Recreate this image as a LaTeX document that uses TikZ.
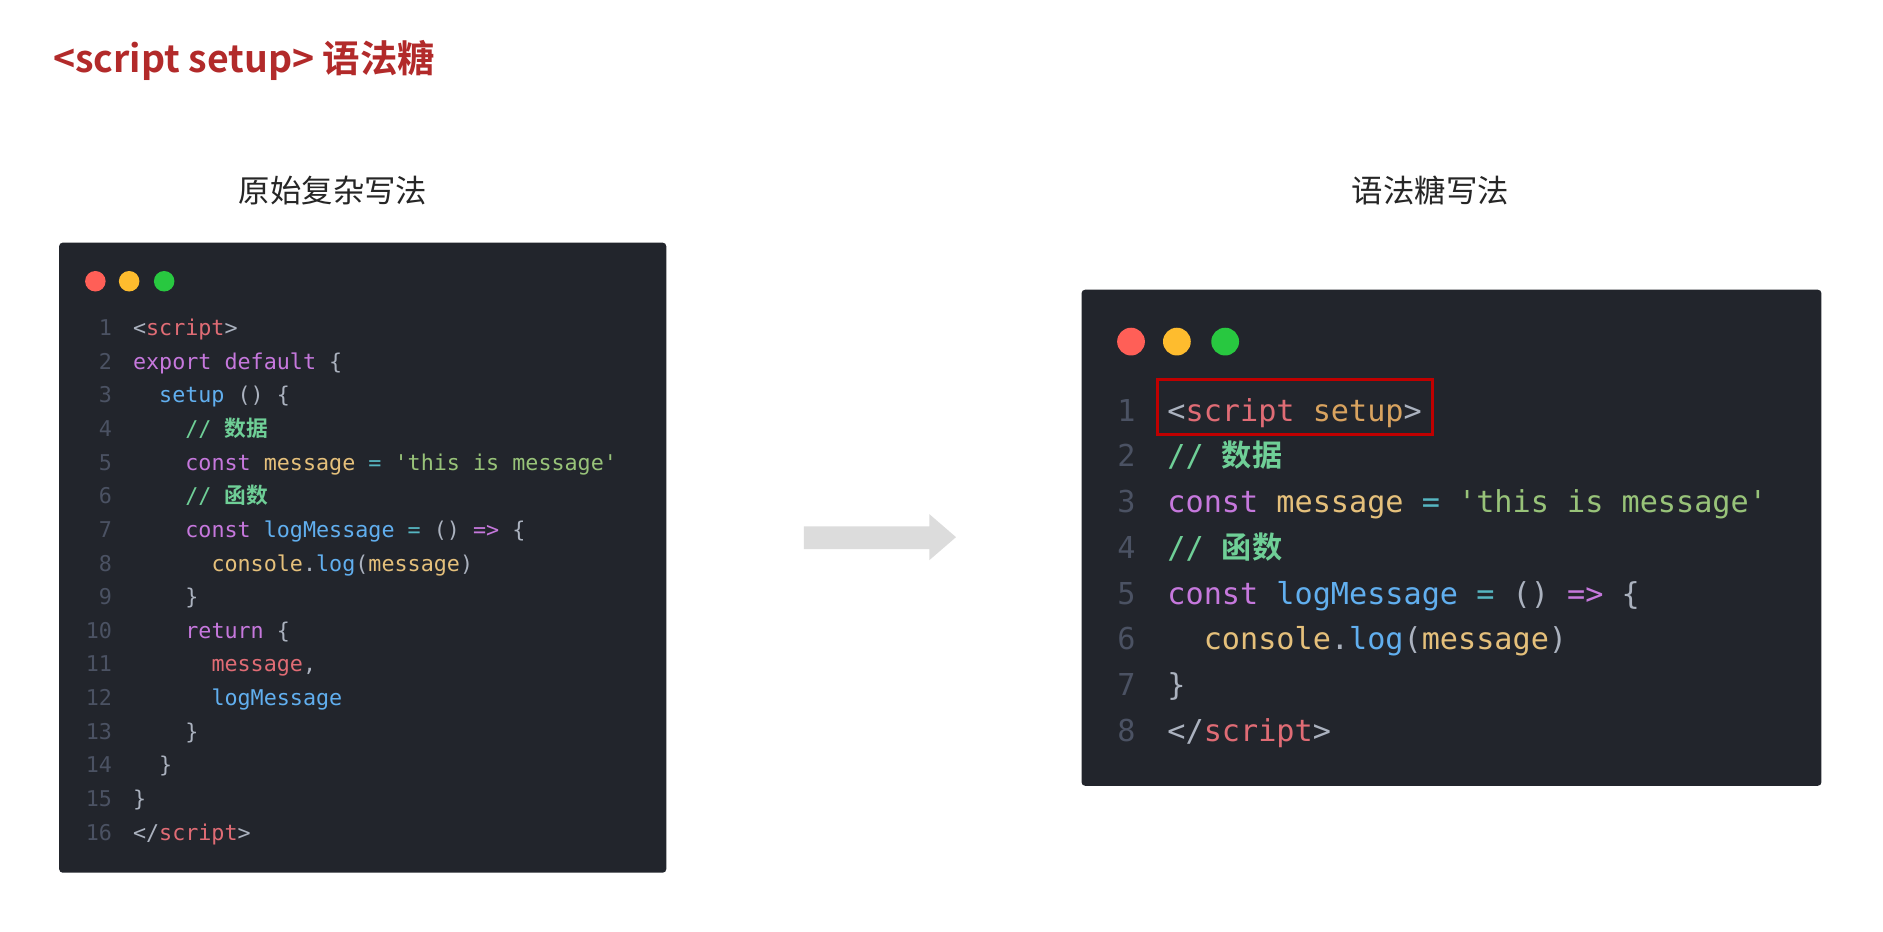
\documentclass[tikz,border=0pt]{standalone}
\usepackage{fontspec}
\setmainfont{Noto Sans CJK SC}
\newfontfamily\cjk{Noto Sans CJK SC}
\newfontfamily\cjkb{Noto Sans CJK SC Bold}
\setmonofont{DejaVu Sans Mono}
\definecolor{titlered}{HTML}{B22A2A}
\definecolor{panel}{HTML}{22252C}
\definecolor{cR}{HTML}{E06C75}
\definecolor{cP}{HTML}{C678DD}
\definecolor{cB}{HTML}{61AFEF}
\definecolor{cY}{HTML}{E5C07B}
\definecolor{cG}{HTML}{98C379}
\definecolor{cC}{HTML}{56B6C2}
\definecolor{cM}{HTML}{6FCF97}
\definecolor{cW}{HTML}{ABB2BF}
\definecolor{cO}{HTML}{D9A35F}
\definecolor{cN}{HTML}{4B5263}
\definecolor{dR}{HTML}{FF5F57}
\definecolor{dY}{HTML}{FEBC2E}
\definecolor{dG}{HTML}{28C840}
\definecolor{arrowgray}{HTML}{DCDCDC}
\definecolor{boxred}{HTML}{C00000}
\newcommand{\cw}[2]{\textcolor{#1}{#2}}
\newcommand{\cmt}[1]{\textcolor{cM}{//~{\cjkb #1}}}
\tikzset{
  codeS/.style={anchor=base west,inner sep=0pt,font=\ttfamily\fontsize{18}{18}\selectfont,text=cW},
  numS/.style={anchor=base east,inner sep=0pt,font=\ttfamily\fontsize{18}{18}\selectfont,text=cN},
  codeL/.style={anchor=base west,inner sep=0pt,font=\ttfamily\fontsize{25}{25}\selectfont,text=cW},
  numL/.style={anchor=base east,inner sep=0pt,font=\ttfamily\fontsize{25}{25}\selectfont,text=cN},
  panelbox/.style={fill=panel,rounded corners=3pt},
  sub/.style={anchor=base,inner sep=0pt,font=\cjk\fontsize{26}{26}\selectfont,text=black!85}
}
\begin{document}
\begin{tikzpicture}[x=1pt,y=-1pt]
\useasboundingbox (0,0) rectangle (1560,772);
\fill[white] (0,0) rectangle (1560,772);
\node[anchor=base west,inner sep=0pt,text=titlered,font=\cjkb\fontsize{31}{31}\selectfont] (title) at (44,60) {<script setup> 语法糖};
\node[sub] (sub1) at (276,168) {原始复杂写法};
\node[sub] (sub2) at (1185,168) {语法糖写法};
% left panel
\fill[panelbox] (49,201) rectangle (552,723);
\fill[dR] (79,233) circle (8.5);
\fill[dY] (107,233) circle (8.5);
\fill[dG] (136,233) circle (8.5);
\foreach \i in {1,...,16}{
  \node[numS] (ln\i) at (93,{272+(\i-1)*27.87+6}) {\i};
}
\def\L#1#2{\node[codeS] (lc#1) at (110,{272+(#1-1)*27.87+6}) {#2};}
\L{1}{<\cw{cR}{script}>}
\L{2}{\cw{cP}{export default} \{}
\L{3}{\ \ \cw{cB}{setup} () \{}
\L{4}{\ \ \ \ \cmt{数据}}
\L{5}{\ \ \ \ \cw{cP}{const} \cw{cY}{message} \cw{cC}{=} \cw{cG}{'this is message'}}
\L{6}{\ \ \ \ \cmt{函数}}
\L{7}{\ \ \ \ \cw{cP}{const} \cw{cB}{logMessage} \cw{cC}{=} () \cw{cP}{=>} \{}
\L{8}{\ \ \ \ \ \ \cw{cY}{console}.\cw{cB}{log}(\cw{cY}{message})}
\L{9}{\ \ \ \ \}}
\L{10}{\ \ \ \ \cw{cP}{return} \{}
\L{11}{\ \ \ \ \ \ \cw{cR}{message},}
\L{12}{\ \ \ \ \ \ \cw{cB}{logMessage}}
\L{13}{\ \ \ \ \}}
\L{14}{\ \ \}}
\L{15}{\}}
\L{16}{</\cw{cR}{script}>}
% arrow
\fill[arrowgray] (666,436) -- (770,436) -- (770,426) -- (792,445) -- (770,464) -- (770,455) -- (666,455) -- cycle;
% right panel
\fill[panelbox] (896,240) rectangle (1509,651);
\fill[dR] (937,283) circle (11.5);
\fill[dY] (975,283) circle (11.5);
\fill[dG] (1015,283) circle (11.5);
\foreach \i in {1,...,8}{
  \node[numL] (rn\i) at (941,{340+(\i-1)*37.86+9}) {\i};
}
\def\R#1#2{\node[codeL] (rc#1) at (967,{340+(#1-1)*37.86+9}) {#2};}
\R{1}{<\cw{cR}{script} \cw{cO}{setup}>}
\R{2}{\cmt{数据}}
\R{3}{\cw{cP}{const} \cw{cY}{message} \cw{cC}{=} \cw{cG}{'this is message'}}
\R{4}{\cmt{函数}}
\R{5}{\cw{cP}{const} \cw{cB}{logMessage} \cw{cC}{=} () \cw{cP}{=>} \{}
\R{6}{\ \ \cw{cY}{console}.\cw{cB}{log}(\cw{cY}{message})}
\R{7}{\}}
\R{8}{</\cw{cR}{script}>}
\draw[boxred,line width=2.5pt] (959,314) rectangle (1187,360);
\end{tikzpicture}
\end{document}
